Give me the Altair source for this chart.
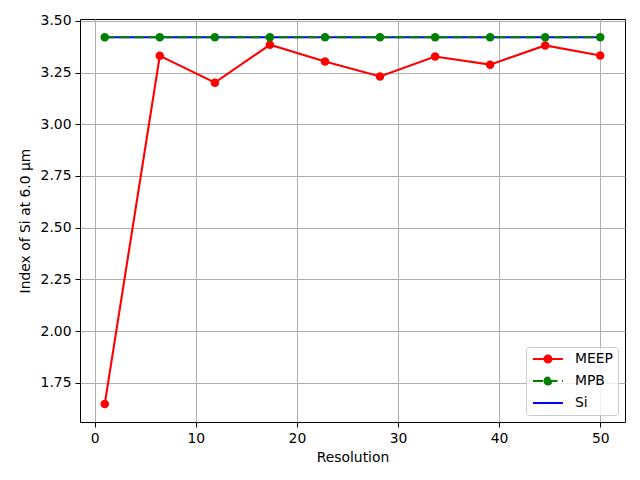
import altair as alt
import pandas as pd

resolution = [1, 6.44, 11.89, 17.33, 22.78, 28.22, 33.67, 39.11, 44.56, 50]
meep = [1.649, 3.331, 3.201, 3.384, 3.303, 3.231, 3.327, 3.288, 3.381, 3.332]
mpb = [3.42] * 10
si_x = [1, 50]
si_y = [3.42, 3.42]

series = ["MEEP", "MPB", "Si"]
colors = ["#ff0000", "#008000", "#0000ff"]
dashes = [[1, 0], [10, 4.5], [1, 0]]

# simbolos da legenda: linha + marcador (Si so linha)
sym_ponto = "M-1,0L5,0M1.3,0A0.7,0.7 0 1,0 2.7,0A0.7,0.7 0 1,0 1.3,0Z"
sym_linha = "M-1,0L5,0"
simbolos = [sym_ponto, sym_ponto, sym_linha]

df = pd.concat([
    pd.DataFrame({"Resolution": si_x, "Index": si_y, "Serie": "Si"}),
    pd.DataFrame({"Resolution": resolution, "Index": meep, "Serie": "MEEP"}),
    pd.DataFrame({"Resolution": resolution, "Index": mpb, "Serie": "MPB"}),
])

x = alt.X("Resolution:Q", title="Resolution",
          scale=alt.Scale(domain=[-1.45, 52.45], nice=False, zero=False),
          axis=alt.Axis(values=[0, 10, 20, 30, 40, 50], format="d"))
y = alt.Y("Index:Q", title="Index of Si at 6.0 μm",
          scale=alt.Scale(domain=[1.5615, 3.5085], nice=False, zero=False),
          axis=alt.Axis(values=[1.75, 2.0, 2.25, 2.5, 2.75, 3.0, 3.25, 3.5], format=".2f"))

base = alt.Chart(df)


def serie(nome, cor, traco=None, marcador=True):
    d = base.transform_filter(alt.datum.Serie == nome)
    estilo = {"strokeWidth": 2.1, "color": cor}
    if traco:
        estilo["strokeDash"] = traco
    camadas = [d.mark_line(**estilo).encode(x=x, y=y)]
    if marcador:
        camadas.append(d.mark_point(filled=True, size=72, opacity=1, color=cor).encode(x=x, y=y))
    return camadas


# camada vazia so para a legenda
legenda = base.transform_filter("false").mark_point(filled=True, strokeWidth=2, opacity=1).encode(
    fill=alt.Fill("Serie:N", title=None, scale=alt.Scale(domain=series, range=colors)),
    stroke=alt.Stroke("Serie:N", title=None, scale=alt.Scale(domain=series, range=colors)),
    shape=alt.Shape("Serie:N", title=None, scale=alt.Scale(domain=series, range=simbolos)),
    strokeDash=alt.StrokeDash("Serie:N", title=None, scale=alt.Scale(domain=series, range=dashes)),
)

camadas = (
    serie("Si", colors[2], marcador=False)
    + serie("MEEP", colors[0])
    + serie("MPB", colors[1], traco=[10, 4.5])
    + [legenda]
)

chart = alt.layer(*camadas).properties(
    width=545, height=403,
    autosize=alt.AutoSizeParams(type="none"),
    padding={"left": 72, "top": 11, "right": 7, "bottom": 50},
).configure(
    font="DejaVu Sans",
).configure_view(
    stroke="black", strokeWidth=1,
).configure_axis(
    grid=True, gridColor="#b0b0b0", gridWidth=1,
    domain=False, tickColor="black", tickSize=5,
    labelColor="black", labelFontSize=13.9, titleFontSize=13.9,
    titleFontWeight="normal", titleColor="black",
    labelPadding=4,
).configure_axisY(titlePadding=8).configure_axisX(titlePadding=6).configure_legend(
    orient="bottom-right", offset=7,
    labelFontSize=13.9, symbolSize=100, symbolStrokeWidth=2,
    fillColor="rgba(255,255,255,0.8)", strokeColor="#cccccc",
    cornerRadius=3, padding=5, rowPadding=6, labelOffset=30, labelColor="black",
)

chart.save("out.html", embed_options={"renderer": "svg", "actions": False})
